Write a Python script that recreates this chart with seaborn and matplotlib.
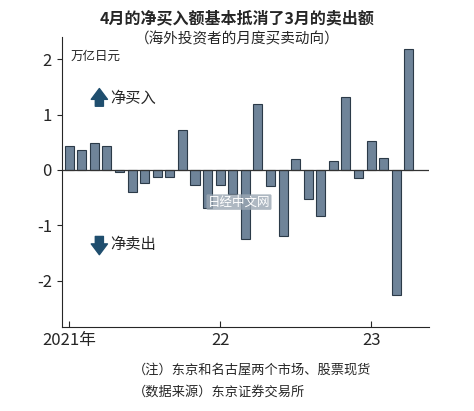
import matplotlib
matplotlib.use('Agg')
import matplotlib.pyplot as plt
import seaborn as sns
import pandas as pd
import numpy as np

sns.set_style('ticks')
plt.rcParams['font.family'] = ['Noto Sans CJK SC', 'DejaVu Sans']

values = [0.44, 0.36, 0.49, 0.43, -0.04, -0.40, -0.24, -0.12, -0.12, 0.72, -0.28, -0.69,
          -0.27, -0.44, -1.25, 1.19, -0.29, -1.19, 0.19, -0.52, -0.83, 0.17, 1.32, -0.14,
          0.53, 0.21, -2.25, 2.18]
months = list(range(len(values)))
tick_pos = [0, 12, 24]
tick_labels = ['2021年', '22', '23']

df = pd.DataFrame({'month': months, 'value': values})

fig = plt.figure(figsize=(4.74, 4.11), dpi=100)
ax = fig.add_axes([0.13, 0.205, 0.775, 0.705])
sns.barplot(data=df, x='month', y='value', color='#6f8499', edgecolor='#2b3a48',
            linewidth=0.8, width=0.72, saturation=1, ax=ax)
ax.axhline(0, color='#333333', lw=0.9)
ax.set_ylim(-2.83, 2.4)
ax.set_xlim(-0.6, 28.6)
ax.set_yticks([-2, -1, 0, 1, 2])
ax.set_yticklabels(['-2', '-1', '0', '1', '2'], fontsize=12)
ax.set_xticks(tick_pos)
ax.set_xticklabels(tick_labels, fontsize=12)
ax.tick_params(axis='x', direction='in', length=4)
ax.set_xlabel('')
ax.set_ylabel('')
sns.despine(ax=ax)

arrow = dict(arrowstyle='simple,head_width=0.9,head_length=0.6,tail_width=0.45',
             color='#1f4e6e', mutation_scale=13)
ax.text(0.1, 2.05, '万亿日元', fontsize=9, va='center')
ax.annotate('', xy=(2.4, 1.52), xytext=(2.4, 1.1), arrowprops=arrow)
ax.text(3.3, 1.3, '净买入', fontsize=11, va='center')
ax.annotate('', xy=(2.4, -1.58), xytext=(2.4, -1.15), arrowprops=arrow)
ax.text(3.3, -1.35, '净卖出', fontsize=11, va='center')
ax.text(13.5, -0.58, '日经中文网', fontsize=9, color='white', ha='center', va='center',
        bbox=dict(boxstyle='round,pad=0.1', fc='#9aa7b3', ec='none', alpha=0.8))

fig.text(0.5, 0.955, '4月的净买入额基本抵消了3月的卖出额', ha='center', va='center',
         fontsize=11.5, fontweight='bold')
fig.text(0.5, 0.905, '（海外投资者的月度买卖动向）', ha='center', va='center', fontsize=10.5)
fig.text(0.28, 0.1, '（注）东京和名古屋两个市场、股票现货', fontsize=9.5, va='center')
fig.text(0.28, 0.045, '（数据来源）东京证券交易所', fontsize=9.5, va='center')

fig.savefig('out.png', dpi=100)
